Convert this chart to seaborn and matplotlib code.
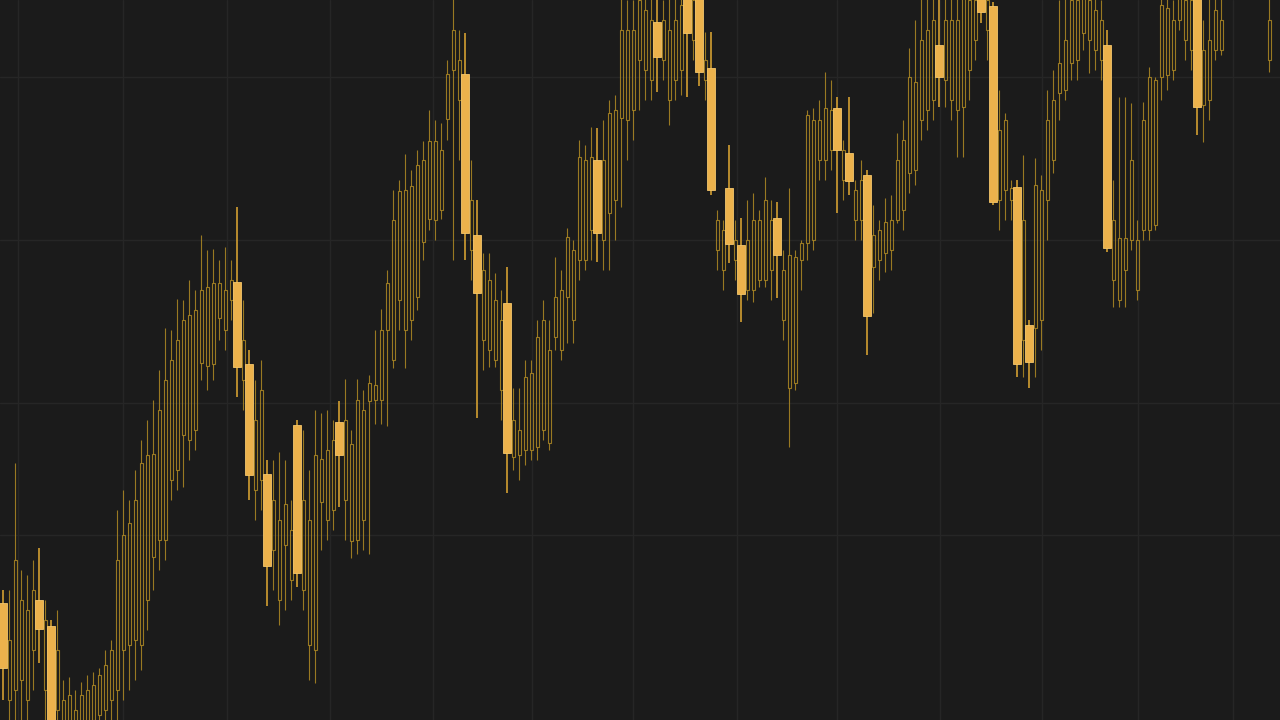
import numpy as np
import pandas as pd
import matplotlib
matplotlib.use("Agg")
import matplotlib.pyplot as plt
import seaborn as sns

nan = np.nan
# OHLC prices per session (index = session number)
open_ = [117, 20, 30, 40, 20, 70, 120, 30, 94, 10,
         -10, -10, -20, -10, -5, 0, 5, 10, 20, 30,
         70, 75, 80, 75, 120, 163, 180, 180, 240, 250,
         285, 280, 290, 357, 354, 356, 402, 390, 420, 438,
         340, 356, 230, 240, 246, 170, 120, 175, 140, 295,
         130, 75, 70, 218, 200, 210, 298, 220, 179, 180,
         200, 319, 320, 320, 390, 360, 420, 390, 400, 423,
         478, 501, 500, 510, 601, 650, 620, 646, 470, 485,
         380, 370, 360, 330, 417, 263, 265, 270, 270, 273,
         290, 277, 383, 370, 423, 400, 460, 460, 490, 560,
         480, 507, 520, 602, 600, 610, 660, 650, 640, 698,
         660, 620, 640, 650, 740, 680, 735, 640, 652, 470,
         450, 532, 460, 475, 430, 430, 440, 440, 450, 502,
         400, 332, 337, 460, 477, 480, 560, 560, 570, 612,
         540, 567, 500, 500, 545, 453, 460, 467, 470, 500,
         510, 547, 550, 600, 610, 620, 675, 640, 620, 610,
         613, 650, 680, 730, 690, 714, 520, 530, 520, 533,
         380, 395, 392, 400, 520, 560, 627, 630, 657, 660,
         687, 680, 670, 660, 675, 440, 420, 450, 480, 430,
         490, 490, 495, 643, 645, 650, 700, 680, 670, 740,
         615, 620, 670, 670, nan, nan, nan, nan, nan, nan,
         nan, 660, nan]
high = [130, 130, 257, 150, 145, 160, 172, 120, 100, 110,
        40, 43, 30, 38, 45, 48, 52, 70, 80, 210,
        230, 220, 250, 280, 300, 320, 350, 392, 390, 421,
        420, 440, 430, 485, 470, 471, 460, 473, 460, 513,
        420, 370, 340, 360, 260, 260, 268, 260, 220, 300,
        290, 250, 310, 307, 310, 300, 319, 341, 290, 341,
        330, 345, 390, 411, 450, 530, 540, 566, 550, 570,
        579, 610, 600, 597, 660, 730, 690, 687, 560, 520,
        467, 467, 447, 430, 453, 332, 332, 360, 360, 400,
        420, 400, 463, 450, 492, 480, 580, 575, 593, 592,
        600, 620, 625, 730, 720, 720, 740, 730, 730, 730,
        720, 730, 730, 740, 745, 740, 745, 688, 688, 510,
        500, 575, 500, 502, 520, 527, 510, 543, 520, 518,
        470, 532, 470, 480, 610, 612, 620, 648, 640, 623,
        580, 623, 540, 560, 550, 515, 500, 522, 525, 587,
        600, 672, 700, 730, 730, 730, 730, 730, 730, 730,
        740, 740, 740, 740, 740, 718, 630, 607, 540, 540,
        565, 400, 562, 545, 630, 650, 720, 730, 740, 740,
        740, 740, 730, 720, 690, 540, 623, 623, 617, 500,
        618, 653, 643, 730, 740, 720, 740, 740, 740, 745,
        700, 730, 730, 730, nan, nan, nan, nan, nan, nan,
        nan, 730, nan]
low = [20, 0, -20, 0, -10, 30, 57, -10, -20, -20,
       -30, -30, -40, -30, -30, -20, -20, -10, -5, 0,
       20, 30, 40, 50, 90, 130, 150, 160, 220, 230,
       233, 260, 270, 340, 330, 340, 380, 370, 400, 323,
       310, 220, 200, 210, 114, 130, 95, 110, 120, 133,
       110, 40, 37, 170, 180, 190, 213, 180, 162, 166,
       170, 166, 296, 296, 294, 352, 390, 352, 380, 410,
       460, 490, 480, 501, 580, 460, 560, 460, 440, 302,
       350, 353, 353, 300, 227, 250, 240, 255, 260, 260,
       280, 270, 370, 360, 377, 377, 440, 450, 460, 458,
       450, 450, 480, 513, 560, 580, 610, 620, 620, 628,
       640, 595, 620, 625, 623, 660, 634, 620, 525, 450,
       430, 457, 440, 398, 420, 418, 433, 433, 420, 422,
       380, 273, 330, 430, 460, 470, 540, 540, 550, 507,
       520, 525, 480, 480, 365, 407, 440, 448, 450, 497,
       490, 527, 535, 580, 590, 600, 613, 613, 600, 563,
       563, 620, 660, 697, 660, 515, 490, 500, 500, 343,
       343, 332, 343, 370, 480, 547, 600, 620, 640, 640,
       670, 647, 650, 640, 468, 413, 413, 413, 470, 420,
       480, 480, 490, 620, 630, 640, 690, 660, 650, 585,
       578, 600, 660, 665, nan, nan, nan, nan, nan, nan,
       nan, 648, nan]
close = [52, 80, 160, 120, 110, 130, 91, 100, -10, 70,
         20, 25, 10, 25, 30, 35, 45, 55, 70, 160,
         185, 197, 220, 257, 265, 266, 310, 340, 360, 380,
         400, 405, 410, 430, 433, 437, 437, 430, 440, 353,
         380, 245, 300, 330, 154, 220, 200, 216, 190, 147,
         220, 200, 265, 261, 270, 280, 265, 300, 276, 320,
         310, 337, 335, 390, 437, 500, 529, 530, 534, 555,
         560, 579, 579, 570, 646, 690, 660, 487, 520, 427,
         450, 440, 420, 400, 267, 300, 290, 343, 347, 383,
         400, 370, 423, 430, 483, 470, 563, 560, 563, 487,
         560, 607, 610, 690, 690, 690, 720, 710, 700, 663,
         700, 690, 700, 715, 687, 720, 648, 660, 530, 500,
         490, 476, 480, 426, 480, 500, 500, 520, 500, 465,
         450, 465, 463, 477, 605, 600, 600, 612, 610, 570,
         570, 539, 530, 540, 404, 485, 490, 498, 500, 560,
         580, 643, 638, 680, 690, 700, 643, 700, 700, 700,
         730, 720, 720, 708, 720, 518, 590, 600, 532, 356,
         500, 358, 535, 530, 600, 620, 657, 680, 720, 720,
         730, 720, 710, 700, 472, 500, 482, 482, 560, 480,
         600, 643, 640, 715, 712, 700, 730, 720, 720, 613,
         670, 680, 710, 700, nan, nan, nan, nan, nan, nan,
         nan, 700, nan]

grid_sessions = [2.5, 20, 37.3, 54.5, 71.7, 88.2, 105, 122.3, 139, 156.2, 173.2, 189.2, 205]
grid_prices = [185, 317, 480, 643]

df = pd.DataFrame({"open": open_, "high": high, "low": low, "close": close})
df["t"] = np.arange(len(df))
df = df.dropna()
up = df[df["close"] >= df["open"]]
down = df[df["close"] < df["open"]]

BG = "#1b1b1b"
sns.set_theme(style="dark", rc={
    "axes.facecolor": BG, "figure.facecolor": BG,
    "grid.color": "#262626", "grid.linewidth": 1.0,
    "axes.edgecolor": BG,
})

fig = plt.figure(figsize=(12.8, 7.2), dpi=100)
ax = fig.add_axes([0, 0, 1, 1])
ax.set_facecolor(BG)

hollow_col = "#b08a24"
# hollow (rising) candles
ax.vlines(up["t"], up["close"], up["high"], color=hollow_col, lw=0.8, alpha=0.85, zorder=2)
ax.vlines(up["t"], up["low"], up["open"], color=hollow_col, lw=0.8, alpha=0.85, zorder=2)
ax.bar(up["t"], up["close"] - up["open"], bottom=up["open"], width=0.5,
       facecolor="none", edgecolor=hollow_col, linewidth=0.8, alpha=0.85, zorder=2)

# filled (falling) candles
wick_col = "#c4942f"
ax.vlines(down["t"], down["low"], down["high"], color=wick_col, lw=1.3, zorder=3)
ax.bar(down["t"], down["close"] - down["open"], bottom=down["open"], width=1.3,
       facecolor="#ecb24c", edgecolor="#f4c66c", linewidth=0.6, zorder=4)

ax.set_xlim(-0.5, 212.83)
ax.set_ylim(0, 720)
ax.set_xticks(grid_sessions)
ax.set_yticks(grid_prices)
ax.tick_params(length=0, labelbottom=False, labelleft=False)
ax.grid(True, color="#262626", lw=1.0, zorder=0)
ax.set_axisbelow(True)
sns.despine(ax=ax, left=True, bottom=True)

fig.savefig("out.png", dpi=100, facecolor=BG)
